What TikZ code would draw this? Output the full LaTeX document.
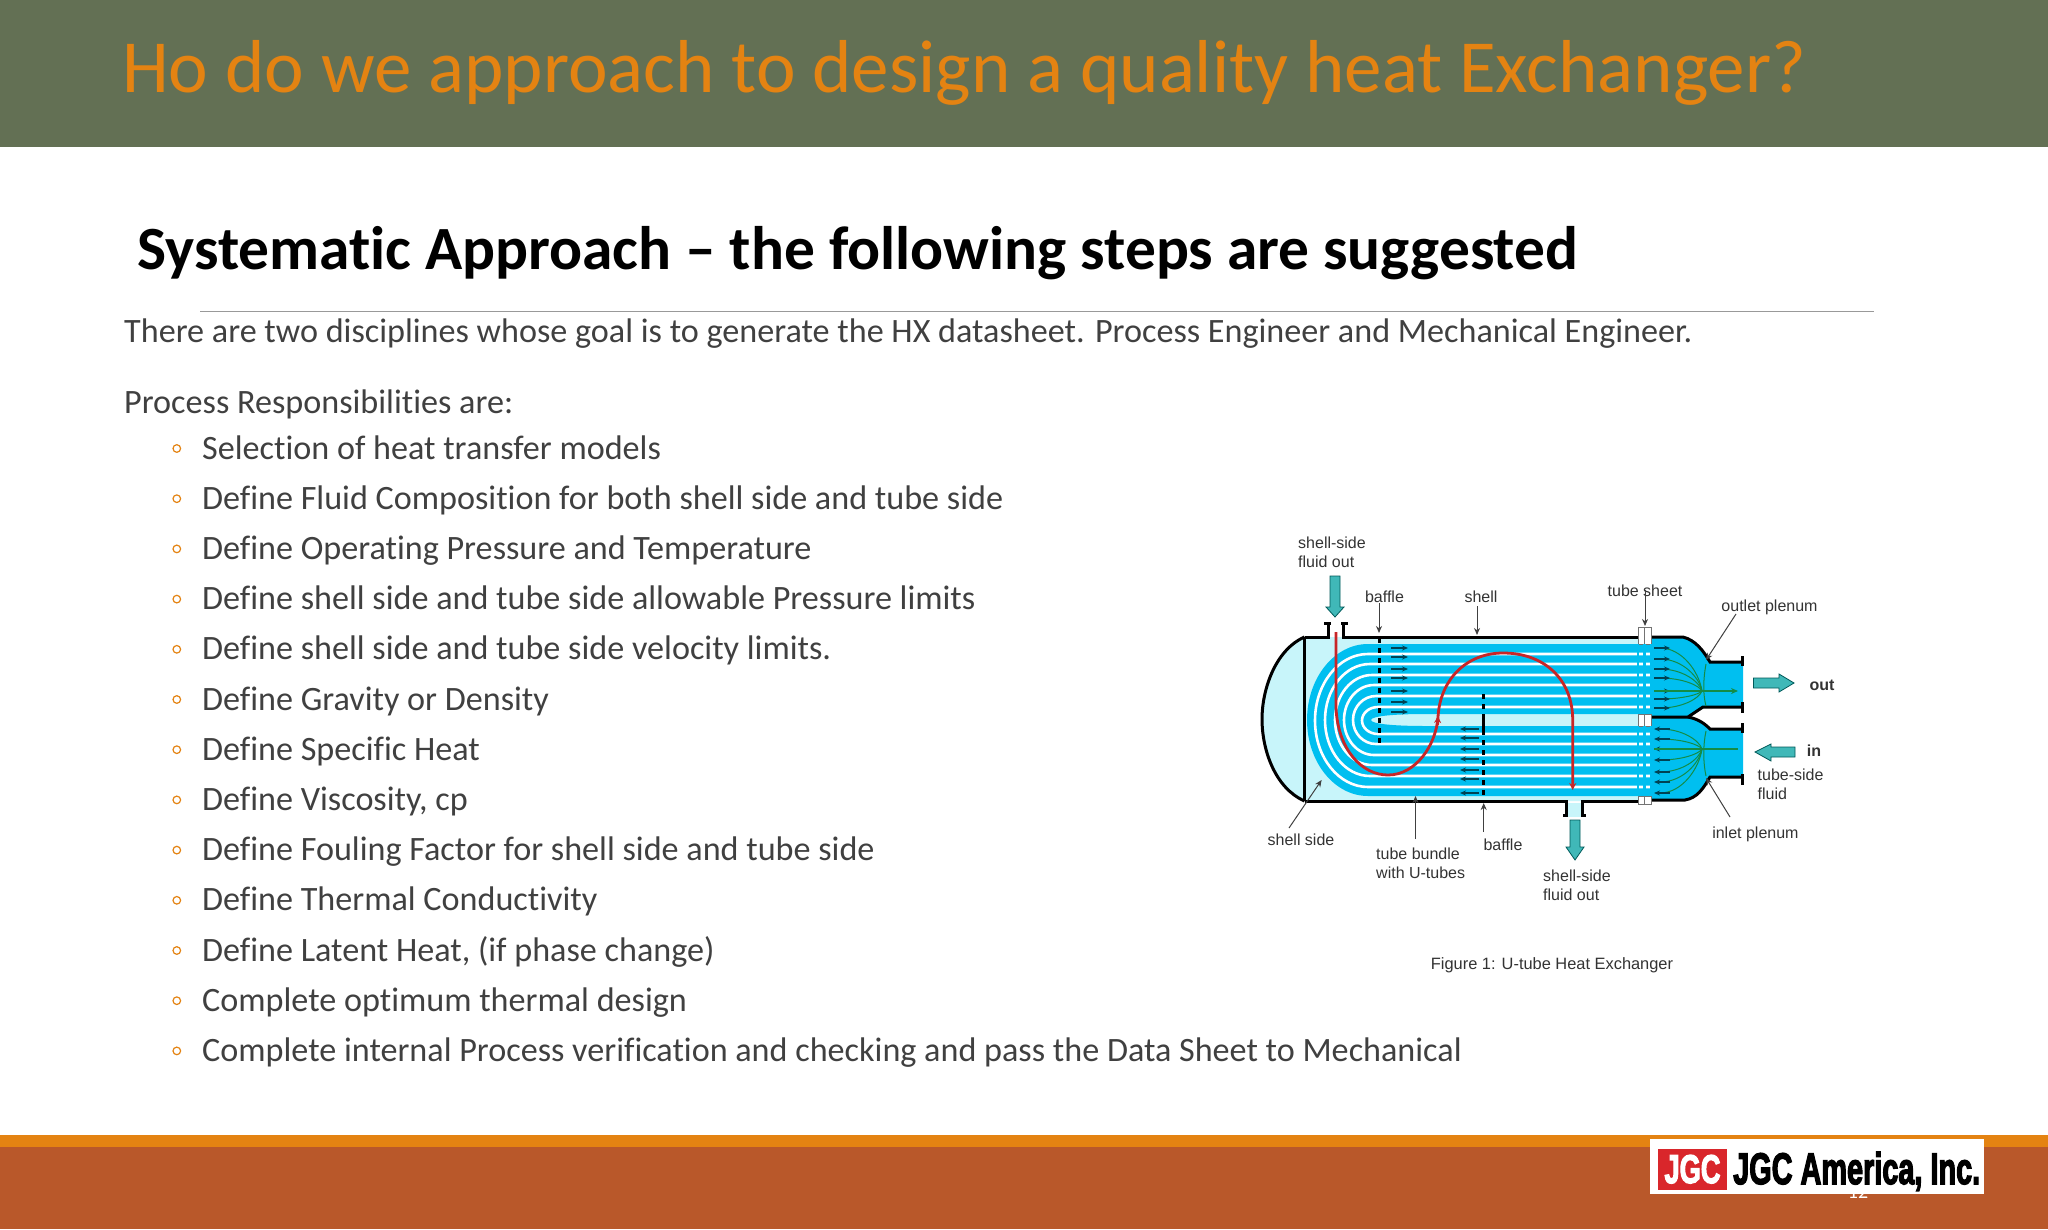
\documentclass[tikz,border=0pt]{standalone}
\usepackage{fontspec}
\setmainfont[Ligatures={TeX,NoCommon}]{Carlito}
\newfontfamily\arialfont{Liberation Sans}
\newfontfamily\logofont[BoldFeatures={FakeBold=3.5}]{Liberation Sans}
\usetikzlibrary{arrows.meta}
\definecolor{bandgreen}{RGB}{99,112,84}
\definecolor{slideorange}{RGB}{228,131,18}
\definecolor{footrust}{RGB}{185,88,42}
\definecolor{bodygrey}{RGB}{64,64,64}
\definecolor{tubeblue}{RGB}{0,191,240}
\definecolor{paleblue}{RGB}{200,245,250}
\definecolor{flowteal}{RGB}{64,184,184}
\definecolor{flowred}{RGB}{200,38,40}
\definecolor{flowgreen}{RGB}{20,140,70}
\definecolor{logored}{RGB}{217,38,43}
\tikzset{
    txt/.style={inner sep=0pt, anchor=base west},
    item/.style={txt, text=bodygrey, font=\fontsize{34.15}{35}\selectfont},
    lbl/.style={inner sep=0pt, anchor=base, text=black!80, font=\arialfont\fontsize{16}{19}\selectfont, align=left},
    lead/.style={draw=black!75, line width=1pt, -{Stealth[length=7pt, width=6pt]}},
    wall/.style={draw=black, line width=3pt},
    tubegap/.style={draw=white, line width=2.6pt},
    tealarrow/.style={draw=teal!70!black, line width=0.8pt, fill=flowteal},
    smallflow/.style={draw=black!65!tubeblue, line width=1.1pt, -{Stealth[length=6pt, width=5pt]}},
    greenflow/.style={draw=flowgreen, line width=1pt}
}
\begin{document}
\begin{tikzpicture}[x=1pt, y=-1pt]
    \useasboundingbox (0, 0) rectangle (2048, 1229);
    % slide bands
    \fill[white] (0, 0) rectangle (2048, 1229);
    \fill[bandgreen] (0, 0) rectangle (2048, 147);
    \fill[footrust] (0, 1135) rectangle (2048, 1229);
    \fill[slideorange] (0, 1135) rectangle (2048, 1147);
    \node[txt, text=slideorange, font=\fontsize{75}{75}\selectfont] (title) at (122, 92) {Ho do we approach to design a quality heat Exchanger?};
    \node[txt, text=black, font=\bfseries\fontsize{61.45}{62}\selectfont] (heading) at (137, 269) {Systematic Approach -- the following steps are suggested};
    \draw[black!40, line width=1pt] (200, 311) -- (1874, 311);
    \node[item] (intro) at (124, 342.5) {There are two disciplines whose goal is to generate the HX datasheet. Process Engineer and Mechanical Engineer.};
    \node[item] (resp) at (124, 413) {Process Responsibilities are:};
    % bullet list
    \foreach \txt [count=\i from 0] in {
        Selection of heat transfer models,
        Define Fluid Composition for both shell side and tube side,
        Define Operating Pressure and Temperature,
        Define shell side and tube side allowable Pressure limits,
        Define shell side and tube side velocity limits.,
        Define Gravity or Density,
        Define Specific Heat,
        {Define Viscosity, cp},
        Define Fouling Factor for shell side and tube side,
        Define Thermal Conductivity,
        {Define Latent Heat, (if phase change)},
        Complete optimum thermal design,
        Complete internal Process verification and checking and pass the Data Sheet to Mechanical
    }{
        \node[item] (item\i) at (202, 459 + 50.2*\i) {\txt};
        \draw[slideorange, line width=1.2pt] (176.8, 448.5 + 50.2*\i) circle (3.8);
    }
    % shell and tube bundle
    \fill[paleblue] (1304.5, 637) .. controls (1275, 650) and (1262, 690) .. (1262, 719)
        .. controls (1262, 750) and (1275, 788) .. (1304.5, 801) -- (1638, 801) -- (1638, 637) -- cycle;
    \fill[tubeblue] (1651, 644) -- (1368, 644) arc[start angle=270, end angle=90, x radius=61, y radius=76]
        -- (1651, 796) -- (1651, 726) -- (1425, 726) .. controls (1395, 726) and (1371, 724) .. (1371, 720)
        .. controls (1371, 716) and (1395, 714) .. (1425, 714) -- (1651, 714) -- cycle;
    \foreach \ya/\yb/\xl/\xb in {654/787/1315/1368, 664/776/1325/1370, 675/765/1335/1372, 685/755/1344/1374, 696/744/1353/1376, 707/734/1362/1378}{
        \draw[tubegap] (1651, \ya) -- (\xb, \ya) arc[start angle=270, end angle=90, x radius=\xb-\xl, y radius=(\yb-\ya)/2] -- (1651, \yb);
    }
    % plenums
    \fill[tubeblue] (1651, 637) -- (1683, 637) .. controls (1695, 640) and (1703, 650) .. (1710, 662)
        -- (1743, 662) -- (1743, 707) -- (1703, 707) -- (1688, 717) .. controls (1698, 719) and (1704, 723) .. (1710, 729)
        -- (1743, 729) -- (1743, 777) -- (1710, 777) .. controls (1703, 789) and (1697, 798) .. (1685, 800)
        -- (1651, 800) -- cycle;
    % baffles
    \draw[black, line width=3pt, dash pattern=on 5pt off 5pt] (1379.5, 638) -- (1379.5, 743);
    \draw[black, line width=3pt, dash pattern=on 5pt off 5pt] (1483.7, 694) -- (1483.7, 715);
    \draw[black, line width=3pt] (1483.7, 715) -- (1483.7, 730);
    \draw[black, line width=3pt, dash pattern=on 5pt off 5pt] (1483.7, 730) -- (1483.7, 802);
    % walls
    \draw[wall] (1304.5, 637) .. controls (1275, 650) and (1262, 690) .. (1262, 719)
        .. controls (1262, 750) and (1275, 788) .. (1304.5, 801);
    \draw[wall] (1304.5, 637) -- (1304.5, 801);
    \draw[wall] (1304.5, 637) -- (1328.3, 637) -- (1328.3, 623) (1324, 623) -- (1331, 623);
    \draw[wall] (1638, 637) -- (1343.5, 637) -- (1343.5, 623) (1341, 623) -- (1348, 623);
    \draw[wall] (1304.5, 801) -- (1566.5, 801) -- (1566.5, 815) (1563, 815) -- (1570, 815);
    \draw[wall] (1638, 801) -- (1582, 801) -- (1582, 815) (1579, 815) -- (1586, 815);
    \fill[paleblue] (1568, 802.5) rectangle (1580.5, 817);
    \draw[wall] (1651, 637) -- (1683, 637) .. controls (1695, 640) and (1703, 650) .. (1710, 662) -- (1742, 662);
    \draw[wall] (1742, 656) -- (1742, 666);
    \draw[wall] (1742, 707) -- (1703, 707) -- (1688, 717) -- (1651, 717);
    \draw[wall] (1742, 702) -- (1742, 713);
    \draw[wall] (1688, 717) .. controls (1698, 719) and (1704, 723) .. (1710, 729) -- (1742, 729);
    \draw[wall] (1742, 723) -- (1742, 733);
    \draw[wall] (1742, 777) -- (1710, 777) .. controls (1703, 789) and (1697, 798) .. (1685, 800) -- (1651, 800);
    \draw[wall] (1742, 774) -- (1742, 785);
    % tube sheet
    \foreach \ya/\yb in {627/644, 714/726, 796/804}{
        \draw[fill=white, draw=black!55, line width=0.9pt] (1638, \ya) rectangle (1651, \yb);
        \draw[black!55, line width=0.9pt] (1644.5, \ya) -- (1644.5, \yb);
    }
    \foreach \ya/\yb in {644/714, 726/796}{
        \draw[tubeblue, line width=2.4pt] (1638, \ya) -- (1638, \yb) (1644.5, \ya) -- (1644.5, \yb) (1651, \ya) -- (1651, \yb);
    }
    % small flow arrows
    \foreach \y in {648, 657, 669, 678, 691, 702, 712}{
        \draw[smallflow] (1391, \y) -- (1408, \y);
    }
    \foreach \y in {729, 738, 749, 759, 770, 779, 793}{
        \draw[smallflow] (1479, \y) -- (1460, \y);
    }
    \foreach \y in {648, 659, 669, 678, 699, 708}{
        \draw[greenflow] (1660, \y) .. controls (1682, \y) and (1699, 691 + 0.45*\y - 0.45*691) .. (1702, 691);
    }
    \foreach \y in {729, 739, 760, 772, 782, 793}{
        \draw[greenflow] (1660, \y) .. controls (1682, \y) and (1699, 749 + 0.45*\y - 0.45*749) .. (1702, 749);
    }
    \foreach \y in {648, 659, 669, 678, 691, 699, 708}{
        \draw[smallflow] (1654, \y) -- (1670, \y);
    }
    \foreach \y in {729, 739, 749, 760, 772, 782, 793}{
        \draw[smallflow] (1670, \y) -- (1654, \y);
    }
    \draw[greenflow] (1706, 664) .. controls (1703, 680) and (1703, 695) .. (1706, 706);
    \draw[greenflow] (1706, 731) .. controls (1703, 745) and (1703, 762) .. (1706, 776);
    \draw[flowgreen, line width=1.6pt, -{Stealth[length=7pt, width=6pt]}] (1654, 691) -- (1738, 691);
    \draw[flowgreen, line width=1.6pt] (1654, 749) -- (1738, 749);
    % red path
    \draw[flowred, line width=2.8pt, -{Stealth[length=7pt, width=7pt]}] (1336, 632) -- (1336, 708)
        .. controls (1338, 750) and (1362, 775) .. (1388, 775)
        .. controls (1416, 775) and (1436, 745) .. (1438, 717)
        .. controls (1440, 680) and (1466, 653) .. (1503, 653)
        .. controls (1545, 653) and (1572.7, 680) .. (1572.7, 720) -- (1572.7, 790);
    \draw[flowred, line width=2.8pt, -{Stealth[length=7pt, width=7pt]}] (1437.5, 725) -- (1438, 716);
    % teal arrows
    \draw[tealarrow] (1330, 576) -- (1340, 576) -- (1340, 607) -- (1344, 607) -- (1335, 617) -- (1326, 607) -- (1330, 607) -- cycle;
    \draw[tealarrow] (1570, 820) -- (1580, 820) -- (1580, 847) -- (1584, 847) -- (1575, 860) -- (1566, 847) -- (1570, 847) -- cycle;
    \draw[tealarrow] (1753.5, 678) -- (1779, 678) -- (1779, 674) -- (1794, 683) -- (1779, 692) -- (1779, 688) -- (1753.5, 688) -- cycle;
    \draw[tealarrow] (1795, 747) -- (1771, 747) -- (1771, 744) -- (1755, 752) -- (1771, 761) -- (1771, 757) -- (1795, 757) -- cycle;
    % labels
    \node[lbl, anchor=base west] (shellin) at (1298, 567) {shell-side\\fluid out};
    \node[lbl] (baffletop) at (1384.5, 602) {baffle};
    \node[lbl] (shelltop) at (1481, 602) {shell};
    \node[lbl] (tubesheet) at (1645, 596) {tube sheet};
    \node[lbl] (outplenum) at (1769.5, 611) {outlet plenum};
    \node[lbl, font=\arialfont\bfseries\fontsize{16}{19}\selectfont] (outlbl) at (1822, 690) {out};
    \node[lbl, font=\arialfont\bfseries\fontsize{16}{19}\selectfont] (inlbl) at (1814, 756) {in};
    \node[lbl, anchor=base west] (tubeside) at (1757.5, 799) {tube-side\\fluid};
    \node[lbl] (shellside) at (1301, 845) {shell side};
    \node[lbl, anchor=base west] (bundle) at (1376, 878) {tube bundle\\with U-tubes};
    \node[lbl] (bafflelow) at (1503, 850) {baffle};
    \node[lbl, anchor=base west] (shellout) at (1543, 900) {shell-side\\fluid out};
    \node[lbl] (inplenum) at (1755.4, 838) {inlet plenum};
    \node[lbl, font=\arialfont\fontsize{16.4}{19}\selectfont] (figcap) at (1552, 969) {Figure 1: U-tube Heat Exchanger};
    % leaders
    \coordinate (tipbaffle) at (1379, 633);
    \coordinate (tipshell) at (1477, 635);
    \coordinate (tipsheet) at (1645, 626);
    \coordinate (tipoutlet) at (1706, 660);
    \coordinate (tipinlet) at (1706, 778);
    \coordinate (tipside) at (1321.6, 780);
    \coordinate (tipbundle) at (1415.5, 796);
    \coordinate (tipbafflelow) at (1483.7, 803);
    \coordinate (footbaffle) at (1379, 603);
    \coordinate (footshell) at (1477, 606);
    \coordinate (footoutlet) at (1736, 614);
    \coordinate (footinlet) at (1730, 817);
    \coordinate (footside) at (1289, 828);
    \coordinate (footbundle) at (1415.5, 839);
    \coordinate (footbafflelow) at (1483.7, 832);
    \draw[lead] (footbaffle) -- (tipbaffle);
    \draw[lead] (footshell) -- (tipshell);
    \draw[lead] (tubesheet.center) -- (tipsheet);
    \draw[lead] (footoutlet) -- (tipoutlet);
    \draw[lead] (footinlet) -- (tipinlet);
    \draw[lead] (footside) -- (tipside);
    \draw[lead] (footbundle) -- (tipbundle);
    \draw[lead] (footbafflelow) -- (tipbafflelow);
    % footer logo
    \node[inner sep=0pt, anchor=base, text=white, font=\fontsize{20}{20}\selectfont] (pageno) at (1858, 1198) {12};
    \fill[white] (1650, 1139) rectangle (1984, 1194);
    \fill[logored] (1658, 1149) rectangle (1727, 1190);
    \node[inner sep=0pt, anchor=base, text=white, font=\logofont\bfseries] (logomark) at (1692.5, 1183) {\resizebox{56pt}{28pt}{JGC}};
    \node[inner sep=0pt, anchor=base west, font=\logofont\bfseries] (logotext) at (1733, 1184) {\resizebox{247pt}{32pt}{JGC America, Inc.}};
\end{tikzpicture}
\end{document}
